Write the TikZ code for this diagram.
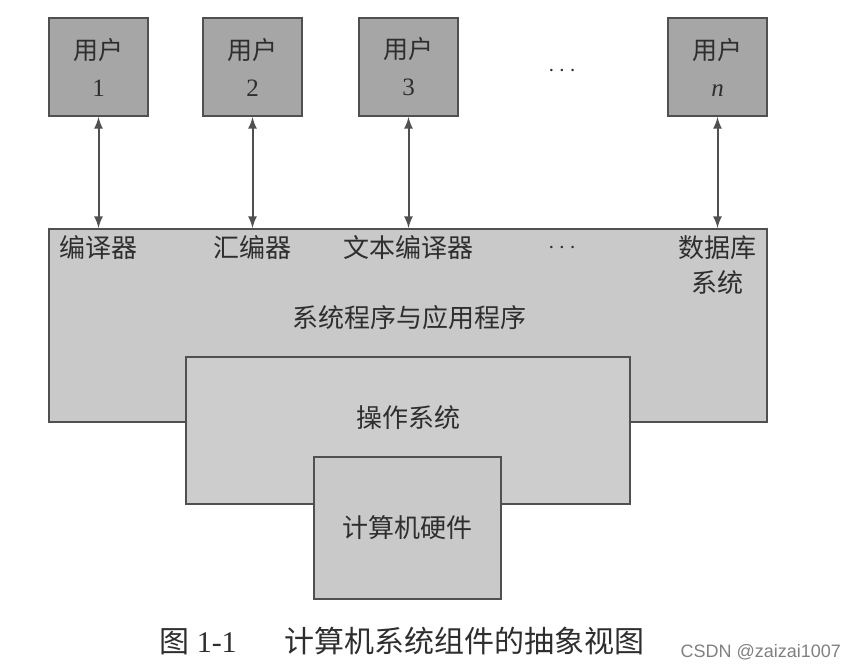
\documentclass[tikz,border=0pt]{standalone}
\usepackage{fontspec}
\setmainfont{Liberation Serif}
\newfontfamily\cjk{Noto Sans CJK SC}
\newfontfamily\wmfont{Liberation Sans}
\usepackage{tikz}

\definecolor{usergray}{HTML}{A6A6A6}
\definecolor{layergray}{HTML}{C9C9C9}
\definecolor{osgray}{HTML}{CDCDCD}
\definecolor{linegray}{HTML}{505050}
\definecolor{textgray}{HTML}{2E2E2E}

\begin{document}
\begin{tikzpicture}[x=0.5pt,y=-0.5pt,
	userbox/.style={draw=linegray, fill=usergray, line width=1pt, minimum width=49.5pt, minimum height=49pt, align=center, text=textgray, font=\fontsize{12.5}{18.5}\selectfont},
	layerbox/.style={draw=linegray, fill=layergray, line width=1pt},
	lbl/.style={text=textgray, inner sep=0pt, align=center, font=\fontsize{13}{17.5}\selectfont\cjk},
	link/.style={<->, >=latex, line width=1pt, draw=linegray}]

	\useasboundingbox (0,0) rectangle (861,668);

	% users
	\foreach \i / \x / \n in {
	1/98.5/1,
	2/252.5/2,
	3/408.5/3,
	n/717.5/{\textit{n}}}
	{
		\node[userbox] (u\i) at (\x,67) {{\cjk 用户}\\\n};
	};
	\node[lbl] (udots) at (562,71) {$\cdots$};

	% system and application programs
	\node[layerbox, minimum width=359pt, minimum height=96.5pt] (sys) at (408,325.5) {};

	\foreach \i in {1,2,3,n}
	{
		\draw[link] (u\i) -- (u\i |- sys.north);
	};

	\node[lbl] (cmp) at (98.5,248) {编译器};
	\node[lbl] (asm) at (252.5,248) {汇编器};
	\node[lbl] (edt) at (408.5,248) {文本编译器};
	\node[lbl] (pdots) at (562,248) {$\cdots$};
	\node[lbl] (dbs) at (717,265.5) {数据库\\系统};
	\node[lbl] (syslbl) at (409,318) {系统程序与应用程序};

	% operating system
	\node[layerbox, fill=osgray, minimum width=222pt, minimum height=73.5pt] (os) at (408,430.5) {};
	\node[lbl] (oslbl) at (408,418) {操作系统};

	% hardware
	\node[layerbox, lbl, minimum width=93.5pt, minimum height=71pt] (hw) at (407.5,528) {计算机硬件};

	% caption
	\node[text=textgray, font=\fontsize{15}{18}\selectfont] (cap) at (402,641) {{\cjk 图}~1-1\hspace{1.6em}{\cjk 计算机系统组件的抽象视图}};
	\node[anchor=east, text=gray, font=\fontsize{9}{11}\selectfont\wmfont] (wm) at (848,652) {CSDN @zaizai1007};
\end{tikzpicture}
\end{document}
